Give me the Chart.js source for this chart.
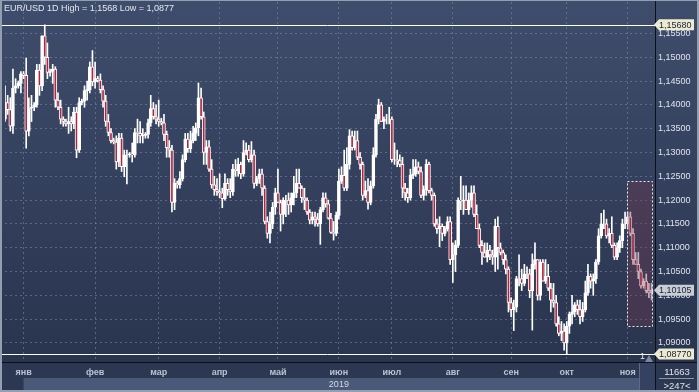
<!DOCTYPE html>
<html><head><meta charset="utf-8">
<style>html,body{margin:0;padding:0;background:#2b3651;overflow:hidden}canvas{display:block}</style>
<script src="https://cdn.jsdelivr.net/npm/chart.js@4.4.1/dist/chart.umd.min.js"></script>
</head><body>
<canvas id="c" width="699" height="392"></canvas>
<script>
// ---- data (EUR/USD daily, 24 Dec 2018 .. 14 Nov 2019; Sunday sessions included until mid-March) ----
const opens = [
 1.1370,1.1405,1.1390,1.1355,1.1435,1.1440,1.1445,
 1.1465,1.1462,1.1345,1.1393,1.1395,1.1400,1.1473,1.1440,1.1545,1.1500,1.1468,1.1470,1.1475,1.1410,1.1395,1.1370,1.1365,1.1360,1.1365,1.1360,1.1385,1.1305,1.1405,1.1408,1.1430,1.1432,1.1480,
 1.1448,1.1455,1.1452,1.1432,1.1408,1.1365,1.1342,1.1325,1.1322,1.1280,1.1330,1.1270,1.1295,1.1295,1.1297,1.1295,1.1342,1.1340,1.1335,1.1336,1.1338,1.1362,1.1392,1.1375,
 1.1370,1.1365,1.1362,1.1338,1.1310,1.1305,1.1195,1.1235,1.1232,1.1245,1.1285,1.1328,1.1308,1.1325,1.1340,1.1352,1.1415,1.1375,1.1300,1.1312,1.1265,1.1232,1.1222,
 1.1218,1.1215,1.1203,1.1235,1.1222,1.1217,1.1265,1.1262,1.1275,1.1255,1.1300,1.1305,1.1285,1.1295,1.1235,1.1245,1.1255,1.1225,1.1155,1.1130,1.1150,1.1185,
 1.1215,1.1195,1.1170,1.1200,1.1200,1.1190,1.1205,1.1215,1.1235,1.1225,1.1205,1.1200,1.1175,1.1158,1.1165,1.1160,1.1150,1.1180,1.1205,1.1192,1.1162,1.1132,1.1130,
 1.1168,1.1240,1.1252,1.1225,1.1275,1.1335,1.1310,1.1325,1.1290,1.1275,1.1210,1.1220,1.1195,1.1230,1.1295,1.1370,1.1400,1.1365,1.1370,1.1370,
 1.1370,1.1285,1.1285,1.1283,1.1275,1.1225,1.1215,1.1205,1.1252,1.1255,1.1270,1.1260,1.1210,1.1222,1.1275,1.1220,1.1210,1.1150,1.1140,1.1145,1.1130,1.1140,1.1155,
 1.1075,1.1085,1.1105,1.1200,1.1198,1.1200,1.1180,1.1200,1.1215,1.1170,1.1140,1.1105,1.1090,1.1080,1.1095,1.1085,1.1080,1.1145,1.1100,1.1090,1.1075,1.1055,
 1.0985,1.0970,1.0975,1.1035,1.1035,1.1025,1.1045,1.1045,1.1010,1.1065,1.1075,1.1000,1.1070,1.1030,1.1040,1.1015,1.0990,1.0985,1.0940,1.0920,1.0925,
 1.0900,1.0935,1.0960,1.0965,1.0980,1.0970,1.0955,1.0970,1.1005,1.1040,1.1030,1.1035,1.1070,1.1125,1.1150,1.1150,1.1125,1.1130,1.1105,1.1080,1.1100,1.1115,1.1150,
 1.1150,1.1165,1.1130,1.1075,1.1065,1.1050,1.1020,1.1030,1.1010,1.1005
];
const highs = [
 1.1440,1.1420,1.1415,1.1475,1.1455,1.1450,1.1470,
 1.1470,1.1498,1.1415,1.1420,1.1405,1.1485,1.1485,1.1545,1.1568,1.1530,1.1475,1.1485,1.1480,1.1425,1.1410,1.1375,1.1370,1.1395,1.1375,1.1395,1.1395,1.1415,1.1412,1.1440,1.1450,1.1490,1.1514,
 1.1490,1.1460,1.1465,1.1440,1.1420,1.1380,1.1350,1.1330,1.1335,1.1340,1.1340,1.1305,1.1305,1.1300,1.1320,1.1350,1.1370,1.1365,1.1350,1.1342,1.1370,1.1420,1.1405,1.1400,
 1.1410,1.1372,1.1380,1.1345,1.1325,1.1315,1.1245,1.1240,1.1260,1.1295,1.1340,1.1340,1.1345,1.1355,1.1362,1.1446,1.1435,1.1385,1.1325,1.1325,1.1285,1.1250,1.1245,
 1.1255,1.1225,1.1255,1.1245,1.1245,1.1275,1.1285,1.1288,1.1280,1.1325,1.1320,1.1315,1.1323,1.1305,1.1250,1.1265,1.1265,1.1230,1.1165,1.1175,1.1195,1.1225,
 1.1265,1.1200,1.1205,1.1210,1.1215,1.1215,1.1250,1.1265,1.1265,1.1230,1.1225,1.1205,1.1180,1.1175,1.1175,1.1172,1.1185,1.1215,1.1215,1.1200,1.1172,1.1155,1.1175,
 1.1265,1.1270,1.1305,1.1310,1.1348,1.1345,1.1345,1.1345,1.1300,1.1280,1.1240,1.1245,1.1240,1.1310,1.1380,1.1412,1.1405,1.1375,1.1380,1.1395,
 1.1375,1.1320,1.1305,1.1295,1.1290,1.1235,1.1225,1.1265,1.1285,1.1285,1.1280,1.1270,1.1230,1.1285,1.1280,1.1225,1.1215,1.1160,1.1165,1.1150,1.1145,1.1165,1.1165,
 1.1110,1.1115,1.1205,1.1250,1.1230,1.1230,1.1215,1.1230,1.1230,1.1190,1.1150,1.1115,1.1110,1.1110,1.1105,1.1095,1.1160,1.1165,1.1110,1.1095,1.1085,1.1060,
 1.0995,1.0990,1.1040,1.1085,1.1055,1.1065,1.1060,1.1055,1.1087,1.1110,1.1075,1.1075,1.1075,1.1075,1.1065,1.1025,1.1025,1.1000,1.0955,1.0945,1.0940,
 1.0945,1.0965,1.1000,1.0985,1.0990,1.0990,1.0985,1.1030,1.1065,1.1045,1.1045,1.1075,1.1140,1.1172,1.1179,1.1160,1.1140,1.1165,1.1110,1.1110,1.1125,1.1160,1.1175,
 1.1175,1.1175,1.1140,1.1090,1.1090,1.1055,1.1035,1.1045,1.1025,1.1025
];
const lows = [
 1.1365,1.1380,1.1345,1.1340,1.1425,1.1435,1.1425,
 1.1455,1.1309,1.1335,1.1365,1.1388,1.1395,1.1420,1.1430,1.1485,1.1455,1.1460,1.1445,1.1395,1.1390,1.1360,1.1355,1.1355,1.1340,1.1345,1.1350,1.1289,1.1300,1.1400,1.1395,1.1410,1.1425,1.1440,
 1.1435,1.1448,1.1425,1.1395,1.1355,1.1335,1.1320,1.1318,1.1265,1.1270,1.1260,1.1249,1.1234,1.1290,1.1280,1.1290,1.1320,1.1320,1.1320,1.1330,1.1330,1.1355,1.1370,1.1360,
 1.1355,1.1358,1.1325,1.1290,1.1290,1.1175,1.1180,1.1225,1.1225,1.1240,1.1280,1.1300,1.1300,1.1320,1.1325,1.1335,1.1370,1.1275,1.1275,1.1260,1.1225,1.1210,1.1210,
 1.1205,1.1184,1.1200,1.1210,1.1205,1.1210,1.1250,1.1250,1.1245,1.1250,1.1295,1.1280,1.1280,1.1225,1.1230,1.1235,1.1210,1.1150,1.1120,1.1110,1.1140,1.1170,
 1.1195,1.1135,1.1150,1.1165,1.1170,1.1175,1.1190,1.1205,1.1225,1.1195,1.1180,1.1170,1.1150,1.1150,1.1145,1.1145,1.1107,1.1175,1.1185,1.1160,1.1130,1.1116,1.1125,
 1.1160,1.1235,1.1220,1.1220,1.1265,1.1305,1.1305,1.1285,1.1265,1.1200,1.1205,1.1181,1.1190,1.1225,1.1290,1.1360,1.1365,1.1350,1.1360,1.1360,
 1.1280,1.1275,1.1270,1.1270,1.1205,1.1200,1.1195,1.1200,1.1245,1.1250,1.1255,1.1205,1.1200,1.1210,1.1215,1.1200,1.1145,1.1130,1.1102,1.1115,1.1125,1.1135,1.1065,
 1.1027,1.1050,1.1100,1.1180,1.1170,1.1180,1.1170,1.1185,1.1165,1.1140,1.1100,1.1065,1.1080,1.1070,1.1075,1.1065,1.1050,1.1055,1.1085,1.1065,1.1045,1.0965,
 1.0955,1.0926,1.0965,1.1020,1.1010,1.1020,1.1035,1.0995,1.0927,1.1055,1.0990,1.0990,1.1030,1.1025,1.1010,1.0965,1.0975,1.0935,1.0915,1.0905,1.0885,
 1.0877,1.0920,1.0940,1.0955,1.0960,1.0940,1.0945,1.0965,1.1000,1.1015,1.1000,1.1025,1.1065,1.1120,1.1140,1.1120,1.1110,1.1100,1.1075,1.1075,1.1090,1.1100,1.1140,
 1.1140,1.1125,1.1065,1.1065,1.1035,1.1015,1.1015,1.1005,1.0995,1.0990
];
const closes = [
 1.1405,1.1390,1.1355,1.1435,1.1440,1.1445,1.1465,
 1.1462,1.1345,1.1393,1.1395,1.1400,1.1473,1.1440,1.1545,1.1500,1.1468,1.1470,1.1475,1.1410,1.1395,1.1370,1.1365,1.1360,1.1365,1.1360,1.1385,1.1305,1.1405,1.1408,1.1430,1.1432,1.1480,1.1448,
 1.1455,1.1452,1.1432,1.1408,1.1365,1.1342,1.1325,1.1322,1.1280,1.1330,1.1270,1.1295,1.1295,1.1297,1.1295,1.1342,1.1340,1.1335,1.1336,1.1338,1.1362,1.1392,1.1375,1.1370,
 1.1365,1.1362,1.1338,1.1310,1.1305,1.1195,1.1235,1.1232,1.1245,1.1285,1.1328,1.1308,1.1325,1.1340,1.1352,1.1415,1.1375,1.1300,1.1312,1.1265,1.1232,1.1222,1.1218,
 1.1215,1.1203,1.1235,1.1222,1.1217,1.1265,1.1262,1.1275,1.1255,1.1300,1.1305,1.1285,1.1295,1.1235,1.1245,1.1255,1.1225,1.1155,1.1130,1.1150,1.1185,1.1215,
 1.1195,1.1170,1.1200,1.1200,1.1190,1.1205,1.1215,1.1235,1.1225,1.1205,1.1200,1.1175,1.1158,1.1165,1.1160,1.1150,1.1180,1.1205,1.1192,1.1162,1.1132,1.1130,1.1168,
 1.1240,1.1252,1.1225,1.1275,1.1335,1.1310,1.1325,1.1290,1.1275,1.1210,1.1220,1.1195,1.1230,1.1295,1.1370,1.1400,1.1365,1.1370,1.1370,1.1370,
 1.1285,1.1285,1.1283,1.1275,1.1225,1.1215,1.1205,1.1252,1.1255,1.1270,1.1260,1.1210,1.1222,1.1275,1.1220,1.1210,1.1150,1.1140,1.1145,1.1130,1.1140,1.1155,1.1075,
 1.1085,1.1105,1.1200,1.1198,1.1200,1.1180,1.1200,1.1215,1.1170,1.1140,1.1105,1.1090,1.1080,1.1095,1.1085,1.1080,1.1145,1.1100,1.1090,1.1075,1.1055,1.0985,
 1.0970,1.0975,1.1035,1.1035,1.1025,1.1045,1.1045,1.1010,1.1065,1.1075,1.1000,1.1070,1.1030,1.1040,1.1015,1.0990,1.0985,1.0940,1.0920,1.0925,1.0900,
 1.0935,1.0960,1.0965,1.0980,1.0970,1.0955,1.0970,1.1005,1.1040,1.1030,1.1035,1.1070,1.1125,1.1150,1.1150,1.1125,1.1130,1.1105,1.1080,1.1100,1.1115,1.1150,1.1150,
 1.1165,1.1130,1.1075,1.1065,1.1050,1.1020,1.1030,1.1010,1.1005,1.10105
];
// first session of each month (bar index) and its label
const monthStarts = [7, 34, 58, 81, 103, 126, 146, 169, 191, 212, 235];
const monthLabels = ['янв','фев','мар','апр','май','июн','июл','авг','сен','окт','ноя'];
const yearLabel = '2019';
const yTickValues = [1.090,1.095,1.100,1.105,1.110,1.115,1.120,1.125,1.130,1.135,1.140,1.145,1.150,1.155];
const titleText = 'EUR/USD 1D High = 1,1568 Low = 1,0877';
const hiLevel = 1.1568, loLevel = 1.0877, lastPrice = 1.10105;
const selFrom = 234.6, selTo = 244.3, selHigh = 1.1240, selLow = 1.0935;
const footTop = '11663', footBottom = '>247<';

// ---- chart ----
const FONT = "'Liberation Sans', Arial, sans-serif";
Chart.defaults.font.family = FONT;
const fmt = v => v.toFixed(5).replace('.', ',');
const idx = closes.map((_, i) => i);

function tag(ctx, x, y, text, fill) {
  ctx.beginPath();
  ctx.moveTo(x, y); ctx.lineTo(x + 5, y - 5.5); ctx.lineTo(x + 40, y - 5.5);
  ctx.lineTo(x + 40, y + 5.5); ctx.lineTo(x + 5, y + 5.5); ctx.closePath();
  ctx.fillStyle = fill; ctx.fill();
  ctx.fillStyle = '#1b2030'; ctx.font = '9px ' + FONT;
  ctx.textBaseline = 'middle'; ctx.textAlign = 'left';
  ctx.fillText(text, x + 5, y + 0.5);
}

const decor = {
  id: 'decor',
  beforeDraw(chart) {
    const {ctx, width, height, chartArea: a} = chart;
    const xs = chart.scales.x;
    ctx.save();
    const g = ctx.createLinearGradient(0, 0, 0, a.bottom);
    g.addColorStop(0, '#3f4d6c'); g.addColorStop(1, '#29344e');
    ctx.fillStyle = g; ctx.fillRect(0, 0, width, height);
    ctx.fillStyle = '#2c3752'; ctx.fillRect(0, a.bottom, width, height - a.bottom);
    const sx = xs.getPixelForValue(monthStarts[0]);
    ctx.fillStyle = '#4b5979'; ctx.fillRect(sx, a.bottom + 16, a.right - 16 - sx, 12);
    ctx.fillStyle = '#354160'; ctx.fillRect(a.right - 16, a.bottom, 16, height - a.bottom);
    ctx.fillStyle = '#5d6a86'; ctx.fillRect(a.right - 16, a.bottom, 1, height - a.bottom);
    ctx.restore();
  },
  beforeDatasetsDraw(chart) {
    const {ctx, chartArea: a} = chart;
    const ys = chart.scales.y;
    ctx.save();
    ctx.strokeStyle = '#ffffff'; ctx.lineWidth = 1;
    [hiLevel, loLevel].forEach(v => {
      const y = Math.round(ys.getPixelForValue(v)) + 0.5;
      ctx.beginPath(); ctx.moveTo(0, y); ctx.lineTo(a.right, y); ctx.stroke();
    });
    ctx.restore();
  },
  afterDatasetsDraw(chart) {
    const {ctx} = chart;
    const xs = chart.scales.x, ys = chart.scales.y;
    const x1 = Math.round(xs.getPixelForValue(selFrom)) + 0.5;
    const x2 = Math.round(xs.getPixelForValue(selTo)) + 0.5;
    const y1 = Math.round(ys.getPixelForValue(selHigh)) + 0.5;
    const y2 = Math.round(ys.getPixelForValue(selLow)) + 0.5;
    ctx.save();
    ctx.fillStyle = 'rgba(113,55,80,0.38)';
    ctx.fillRect(x1, y1, x2 - x1, y2 - y1);
    ctx.setLineDash([2, 2]); ctx.strokeStyle = '#e8e8ee'; ctx.lineWidth = 1;
    ctx.strokeRect(x1, y1, x2 - x1, y2 - y1);
    ctx.restore();
  },
  afterDraw(chart) {
    const {ctx, width, height, chartArea: a} = chart;
    const ys = chart.scales.y, xs = chart.scales.x;
    ctx.save();
    // separators
    ctx.fillStyle = '#0c1018';
    ctx.fillRect(a.right, 0, 1, height);
    ctx.fillRect(0, a.bottom, width, 1);
    // price tags
    tag(ctx, a.right - 1, ys.getPixelForValue(hiLevel), fmt(hiLevel), '#ecebd2');
    tag(ctx, a.right - 1, ys.getPixelForValue(lastPrice), fmt(lastPrice), '#c9cdd3');
    tag(ctx, a.right - 1, ys.getPixelForValue(loLevel), fmt(loLevel), '#ecebd2');
    // title
    ctx.font = '9px ' + FONT; ctx.fillStyle = '#e3e7ee';
    ctx.textBaseline = 'middle'; ctx.textAlign = 'left';
    ctx.fillText(titleText, 4, 9);
    // marker near the end of the time axis
    ctx.fillStyle = '#e6e9ef'; ctx.fillText('1', a.right - 15, a.bottom - 5);
    ctx.fillStyle = '#7d889c';
    ctx.beginPath(); ctx.moveTo(a.right - 6, a.bottom - 7); ctx.lineTo(a.right - 2, a.bottom); ctx.lineTo(a.right - 10, a.bottom); ctx.closePath(); ctx.fill();
    // year
    ctx.fillStyle = '#d3d9e3'; ctx.textAlign = 'center';
    ctx.fillText(yearLabel, xs.getPixelForValue(monthStarts[5]), a.bottom + 23);
    // footer box at bottom right
    const cx = (a.right + width) / 2;
    ctx.font = '9.5px ' + FONT; ctx.fillStyle = '#dfe3ea';
    ctx.fillText(footTop, cx, a.bottom + 10);
    ctx.fillText(footBottom, cx, a.bottom + 24);
    ctx.fillStyle = '#8c97ab'; ctx.fillRect(a.right + 4, a.bottom + 16, width - a.right - 9, 1);
    // outer frame
    ctx.fillStyle = '#939eb0';
    ctx.fillRect(0, 0, width, 1); ctx.fillRect(0, height - 2, width, 2);
    ctx.fillRect(0, 0, 2, height); ctx.fillRect(width - 2, 0, 2, height);
    ctx.restore();
  }
};

new Chart(document.getElementById('c'), {
  type: 'bar',
  data: {
    datasets: [
      {
        label: 'wick',
        data: idx.map(i => ({x: i, y: [lows[i], highs[i]]})),
        backgroundColor: '#ffffff',
        borderWidth: 0,
        barThickness: 1,
        grouped: false,
        order: 2
      },
      {
        label: 'body',
        data: idx.map(i => ({x: i, y: [opens[i], closes[i]]})),
        backgroundColor: c => closes[c.dataIndex] < opens[c.dataIndex] ? '#b0263e' : '#ffffff',
        borderColor: '#ffffff',
        borderWidth: 1,
        borderSkipped: false,
        barThickness: 3,
        grouped: false,
        order: 1
      }
    ]
  },
  plugins: [decor],
  options: {
    responsive: false,
    animation: false,
    devicePixelRatio: 1,
    layout: {padding: {left: 5, top: 2, right: 0, bottom: 0}},
    plugins: {legend: {display: false}, tooltip: {enabled: false}, title: {display: false}},
    scales: {
      x: {
        type: 'linear',
        min: 0, max: 245.3,
        offset: false,
        afterBuildTicks: s => { s.ticks = monthStarts.map(v => ({value: v})); },
        afterFit: s => { s.height = 30; s.paddingLeft = 0; s.paddingRight = 0; },
        ticks: {
          autoSkip: false, maxRotation: 0, padding: 5,
          color: '#b9c3d2', font: {size: 9, weight: 'bold'},
          callback: v => { const k = monthStarts.indexOf(v); return k >= 0 ? monthLabels[k] : ''; }
        },
        grid: {offset: false, drawTicks: false, color: 'rgba(125,140,170,0.55)', lineWidth: 1},
        border: {display: false, dash: [2, 3]}
      },
      y: {
        type: 'linear',
        position: 'right',
        min: 1.0860, max: 1.1616,
        beginAtZero: false,
        afterBuildTicks: s => { s.ticks = yTickValues.map(v => ({value: v})); },
        afterFit: s => { s.width = 44; s.paddingTop = 0; s.paddingBottom = 0; },
        ticks: {autoSkip: false, padding: 3, color: '#dfe4ec', font: {size: 9}, callback: v => fmt(v)},
        grid: {drawTicks: false, color: 'rgba(125,140,170,0.55)', lineWidth: 1},
        border: {display: false, dash: [2, 3]}
      }
    }
  }
});
</script>
</body></html>
